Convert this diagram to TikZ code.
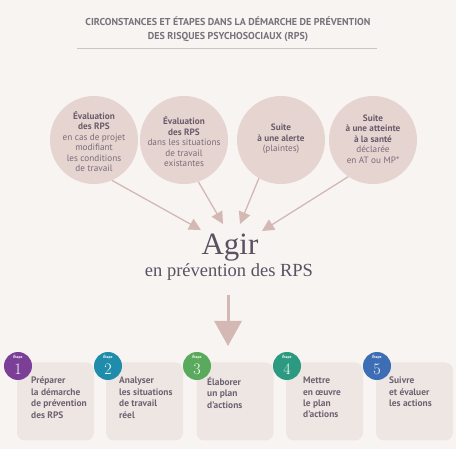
\documentclass[tikz,border=0pt]{standalone}
\usepackage{fontspec}
\setsansfont{PT Sans}
\newfontfamily\agirfont{Liberation Serif}
\usetikzlibrary{arrows.meta}
\definecolor{bgc}{HTML}{F8F4F2}
\definecolor{circc}{HTML}{E6D4D0}
\definecolor{arrc}{HTML}{D4B8B4}
\definecolor{boxc}{HTML}{EDE6E3}
\definecolor{titlec}{HTML}{78707A}
\definecolor{rulec}{HTML}{CFC6C4}
\definecolor{txtb}{HTML}{6A5B6C}
\definecolor{txtr}{HTML}{7A6C7A}
\definecolor{agirc}{HTML}{5C5162}
\definecolor{stepc}{HTML}{6E6271}
\definecolor{bOne}{HTML}{7B3F98}
\definecolor{bTwo}{HTML}{1E8CAA}
\definecolor{bThree}{HTML}{5AAA5E}
\definecolor{bFour}{HTML}{2B9A80}
\definecolor{bFive}{HTML}{3D6DB4}
\tikzset{
  circbig/.style={circle,fill=circc,minimum size=88pt,inner sep=0pt},
  circtext/.style={font=\sffamily\fontsize{9.2}{10.5}\selectfont,align=center,text=txtr,inner sep=0pt},
  inarrow/.style={draw=arrc,line width=1.3pt,-{Triangle[length=12pt,width=12pt]}},
  stepbox/.style={rounded corners=8pt,fill=boxc,minimum width=77pt,minimum height=78pt,inner sep=0pt},
  steptext/.style={font=\sffamily\bfseries\fontsize{9.4}{11.4}\selectfont,align=left,text=stepc,inner sep=0pt,anchor=north west},
  badge/.style={circle,minimum size=28pt,inner sep=0pt},
  badgenum/.style={font=\fontsize{16}{16}\selectfont,text=white,inner sep=0pt},
  badgelab/.style={font=\sffamily\bfseries\fontsize{3.8}{4}\selectfont,text=white,inner sep=0pt}
}
\begin{document}
\begin{tikzpicture}[x=1pt,y=-1pt]
\fill[bgc] (0,0) rectangle (456,449);
\useasboundingbox (0,0) rectangle (456,449);
% title
\node[font=\sffamily\bfseries\fontsize{10}{14}\selectfont,text=titlec,align=center,inner sep=0pt] (title) at (228,29)
  {CIRCONSTANCES ET ÉTAPES DANS LA DÉMARCHE DE PRÉVENTION\\DES RISQUES PSYCHOSOCIAUX (RPS)};
\coordinate (rl) at (77,48);
\coordinate (rr) at (377,48);
\draw[rulec,line width=0.6pt] (rl) -- (rr);
% circles
\node[circbig] (c1) at (94,140) {};
\node[circbig] (c2) at (184,140) {};
\node[circbig] (c3) at (281,140) {};
\node[circbig] (c4) at (373,140) {};
\node[circtext] (c1t) at (94,141.5) {\textbf{\color{txtb}Évaluation}\\\textbf{\color{txtb}des RPS}\\en cas de projet\\modifiant\\les conditions\\de travail};
\node[circtext] (c2t) at (184,142) {\textbf{\color{txtb}Évaluation}\\\textbf{\color{txtb}des RPS}\\dans les situations\\de travail\\existantes};
\node[circtext] (c3t) at (281,139) {\textbf{\color{txtb}Suite}\\\textbf{\color{txtb}à une alerte}\\(plaintes)};
\node[circtext] (c4t) at (373,139) {\textbf{\color{txtb}Suite}\\\textbf{\color{txtb}à une atteinte}\\\textbf{\color{txtb}à la santé}\\déclarée\\en AT ou MP*};
% arrow tips
\coordinate (t1) at (201,230);
\coordinate (t2) at (223,224);
\coordinate (t3) at (240,224);
\coordinate (t4) at (262,231);
\draw[inarrow] (c1.-66) -- (t1);
\draw[inarrow] (c2.-71) -- (t2);
\draw[inarrow] (c3.-120) -- (t3);
\draw[inarrow] (c4.-124) -- (t4);
% Agir
\node[font=\agirfont\fontsize{31}{31}\selectfont,text=agirc,inner sep=0pt] (agir) at (230,248) {Agir};
\node[font=\agirfont\fontsize{18.5}{18.5}\selectfont,text=agirc,inner sep=0pt] (prev) at (229,272) {en prévention des RPS};
\coordinate (dtop) at (228,295);
\coordinate (dtip) at (228,346);
\draw[draw=arrc,line width=3pt,-{Triangle[length=25pt,width=27pt]}] (dtop) -- (dtip);
% step boxes
\node[stepbox] (s1) at (55.5,401.5) {};
\node[stepbox] (s2) at (144.5,401.5) {};
\node[stepbox] (s3) at (235,401.5) {};
\node[stepbox] (s4) at (324.5,401.5) {};
\node[stepbox] (s5) at (414.5,401.5) {};
\node[steptext] (s1t) at (31,377) {Préparer\\la démarche\\de prévention\\des RPS};
\node[steptext] (s2t) at (119,377) {Analyser\\les situations\\de travail\\réel};
\node[steptext] (s3t) at (207,377) {Élaborer\\un plan\\d'actions};
\node[steptext] (s4t) at (303,377) {Mettre\\en œuvre\\le plan\\d'actions};
\node[steptext] (s5t) at (389,377) {Suivre\\et évaluer\\les actions};
% badges
\foreach \n/\x/\c in {1/18/bOne,2/108/bTwo,3/197/bThree,4/287/bFour,5/377/bFive}{
  \node[badge,fill=\c] (b\n) at (\x,366) {};
  \node[badgelab] (bl\n) at (\x,357.5) {Étape};
  \node[badgenum] (bn\n) at (\x,369) {\n};
}
\end{tikzpicture}
\end{document}
